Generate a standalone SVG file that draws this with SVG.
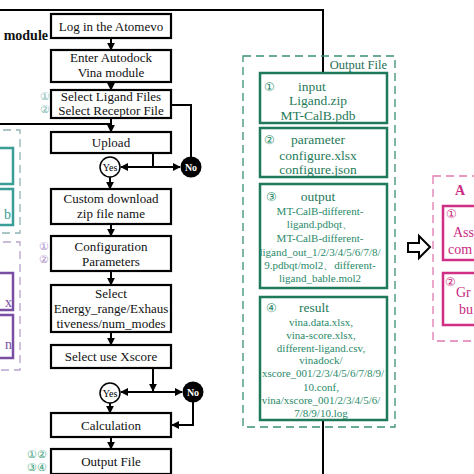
<svg xmlns="http://www.w3.org/2000/svg" width="474" height="474" viewBox="0 0 474 474">
<defs>
<marker id="ah" viewBox="0 0 10 10" refX="9" refY="5" markerWidth="4" markerHeight="4" orient="auto" markerUnits="strokeWidth"><path d="M0,0 L10,5 L0,10 Z" fill="#000"/></marker>
<style>
text{font-family:"Liberation Serif","Times New Roman",serif;}
.box{fill:#fff;stroke:#000;stroke-width:2.2;}
.t{font-size:13px;fill:#111;text-anchor:middle;}
.ln{fill:none;stroke:#000;stroke-width:2;}
.arr{fill:none;stroke:#000;stroke-width:2;marker-end:url(#ah);}
.yes{fill:#fff;stroke:#000;stroke-width:1.5;}
.no{fill:#000;}
.yt{font-size:10px;text-anchor:middle;fill:#000;}
.nt{font-size:10px;text-anchor:middle;fill:#fff;font-weight:bold;}
.gdash{fill:none;stroke:#3a9075;stroke-width:1.3;stroke-dasharray:8,5;}
.gbox{fill:#fff;stroke:#1f7a5a;stroke-width:2.5;}
.g1{font-size:13.5px;fill:#1f7a5a;text-anchor:middle;}
.g2{font-size:11px;fill:#2a8a6a;text-anchor:middle;}
.gn{font-size:12px;fill:#2a8a6a;}
.pdash{fill:none;stroke:#e07ab0;stroke-width:1.3;stroke-dasharray:8,5;}
.pbox{fill:#fff;stroke:#d12f86;stroke-width:2.5;}
.pt{font-size:14px;fill:#c92b80;}
.tdash{fill:none;stroke:#8fb3b3;stroke-width:1.3;stroke-dasharray:8,5;}
.tbox{fill:#fff;stroke:#3a9d96;stroke-width:2.5;}
.udash{fill:none;stroke:#b8a3cf;stroke-width:1.3;stroke-dasharray:8,5;}
.ubox{fill:#fff;stroke:#7a4fa3;stroke-width:2.5;}
.cn{font-size:10.5px;text-anchor:middle;}
</style>
</defs>
<rect width="474" height="474" fill="#fff"/>

<g id="connectors">
<polyline class="ln" points="0,10 323,10 323,73"/>
<line class="ln" x1="323" y1="420" x2="323" y2="474"/>
<line class="arr" x1="111" y1="38" x2="111" y2="50"/>
<line class="arr" x1="111" y1="82" x2="111" y2="90"/>
<polyline class="ln" points="0,124 111,124"/>
<line class="arr" x1="111" y1="118" x2="111" y2="132"/>
<polyline class="ln" points="171,105 191,105 191,157"/>
<line class="ln" x1="153" y1="153" x2="153" y2="167"/>
<line class="arr" x1="153" y1="167" x2="121" y2="167"/>
<line class="arr" x1="153" y1="167" x2="180" y2="167"/>
<line class="arr" x1="110" y1="177" x2="110" y2="189"/>
<line class="arr" x1="111" y1="224" x2="111" y2="236"/>
<line class="arr" x1="111" y1="271" x2="111" y2="285"/>
<line class="arr" x1="111" y1="332" x2="111" y2="345"/>
<line class="arr" x1="153" y1="368" x2="153" y2="391"/>
<line class="arr" x1="153" y1="392" x2="121" y2="392"/>
<line class="arr" x1="153" y1="392" x2="182" y2="392"/>
<polyline class="arr" points="193,402 193,425 172,425"/>
<line class="arr" x1="110" y1="403" x2="110" y2="413"/>
<line class="arr" x1="111" y1="437" x2="111" y2="449"/>
</g>

<g id="module-label"><text x="48" y="40" font-size="14" font-weight="bold" text-anchor="end" fill="#111">module</text></g>

<g id="login"><rect class="box" x="51" y="14" width="120" height="24"/><text class="t" x="111" y="30.5">Log in the Atomevo</text></g>
<g id="enter"><rect class="box" x="51" y="50" width="120" height="32"/><text class="t" x="111" y="62">Enter Autodock</text><text class="t" x="111" y="77">Vina module</text></g>
<g id="select-files"><rect class="box" x="51" y="90" width="120" height="28"/><text class="t" x="111" y="101">Select Ligand Files</text><text class="t" x="111" y="115">Select Receptor File</text>
<text class="cn" x="45" y="100" fill="#7ab8b4">①</text><text class="cn" x="45" y="113" fill="#7ab8b4">②</text></g>
<g id="upload"><rect class="box" x="51" y="132" width="120" height="21"/><text class="t" x="111" y="147">Upload</text></g>
<g id="yes1"><circle class="yes" cx="110" cy="167" r="10"/><text class="yt" x="110" y="170.5">Yes</text></g>
<g id="no1"><circle class="no" cx="191" cy="167" r="10.5"/><text class="nt" x="191" y="170.5">No</text></g>
<g id="custom"><rect class="box" x="51" y="189" width="120" height="35"/><text class="t" x="111" y="203">Custom download</text><text class="t" x="111" y="218">zip file name</text></g>
<g id="config"><rect class="box" x="51" y="236" width="120" height="35"/><text class="t" x="111" y="251">Configuration</text><text class="t" x="111" y="266">Parameters</text>
<text class="cn" x="44" y="250" fill="#a98cc8">①</text><text class="cn" x="44" y="263" fill="#a98cc8">②</text></g>
<g id="energy"><rect class="box" x="51" y="285" width="120" height="47"/><text class="t" x="111" y="298">Select</text><text class="t" x="111" y="313">Energy_range/Exhaus</text><text class="t" x="111" y="328">tiveness/num_modes</text></g>
<g id="xscore"><rect class="box" x="51" y="345" width="120" height="23"/><text class="t" x="111" y="361">Select use Xscore</text></g>
<g id="yes2"><circle class="yes" cx="110" cy="393" r="10"/><text class="yt" x="110" y="396.5">Yes</text></g>
<g id="no2"><circle class="no" cx="193" cy="392" r="10.5"/><text class="nt" x="193" y="395.5">No</text></g>
<g id="calc"><rect class="box" x="51" y="413" width="120" height="24"/><text class="t" x="111" y="430">Calculation</text></g>
<g id="output"><rect class="box" x="51" y="449" width="120" height="25"/><text class="t" x="111" y="466">Output File</text>
<g fill="#3aa07a"><text class="cn" x="32" y="458">①</text><text class="cn" x="42" y="458">②</text><text class="cn" x="32" y="471">③</text><text class="cn" x="42" y="471">④</text></g></g>

<g id="left-teal">
<rect class="tdash" x="-10" y="130" width="30" height="103"/>
<rect class="tbox" x="-10" y="148" width="23" height="36"/>
<rect class="tbox" x="-10" y="189" width="23" height="36"/>
<text x="11" y="219" font-size="14" text-anchor="end" fill="#3a9d96">b</text>
</g>
<g id="left-purple">
<rect class="udash" x="-10" y="242" width="30" height="128"/>
<rect class="ubox" x="-10" y="273" width="23" height="37"/>
<rect class="ubox" x="-10" y="315" width="23" height="43"/>
<text x="12" y="307" font-size="14" text-anchor="end" fill="#7a4fa3">x</text>
<text x="12" y="349" font-size="14" text-anchor="end" fill="#7a4fa3">n</text>
</g>

<g id="output-panel">
<rect class="gdash" x="243" y="56" width="152" height="371"/>
<text x="387" y="69" font-size="12.5" text-anchor="end" fill="#1f6e55">Output File</text>
<g id="input-box"><rect class="gbox" x="260" y="73" width="127" height="50"/>
<text class="gn" x="264" y="91">①</text>
<text class="g1" x="312" y="91">input</text><text class="g1" x="318" y="105">Ligand.zip</text><text class="g1" x="318" y="120">MT-CalB.pdb</text></g>
<g id="param-box"><rect class="gbox" x="260" y="128" width="127" height="49"/>
<text class="gn" x="264" y="144">②</text>
<text class="g1" x="318" y="144">parameter</text><text class="g1" x="318" y="160">configure.xlsx</text><text class="g1" x="318" y="174">configure.json</text></g>
<g id="output-box"><rect class="gbox" x="260" y="184" width="127" height="104"/>
<text class="gn" x="266" y="201">③</text>
<text class="g1" x="318" y="201">output</text>
<text class="g2" x="320" y="215">MT-CalB-different-</text>
<text class="g2" x="320" y="228">ligand.pdbqt、</text>
<text class="g2" x="320" y="242">MT-CalB-different-</text>
<text class="g2" x="320" y="256">ligand_out_1/2/3/4/5/6/7/8/</text>
<text class="g2" x="320" y="269">9.pdbqt/mol2、different-</text>
<text class="g2" x="320" y="282">ligand_bable.mol2</text></g>
<g id="result-box"><rect class="gbox" x="260" y="297" width="127" height="123"/>
<text class="gn" x="266" y="312">④</text>
<text class="g1" x="314" y="312">result</text>
<text class="g2" x="321" y="326">vina.data.xlsx,</text>
<text class="g2" x="321" y="339">vina-score.xlsx,</text>
<text class="g2" x="321" y="352">different-ligand.csv,</text>
<text class="g2" x="321" y="364">vinadock/</text>
<text class="g2" x="323" y="377">xscore_001/2/3/4/5/6/7/8/9/</text>
<text class="g2" x="321" y="391">10.conf,</text>
<text class="g2" x="321" y="404">vina/xscore_001/2/3/4/5/6/</text>
<text class="g2" x="321" y="417">7/8/9/10.log</text></g>
</g>

<g id="hollow-arrow"><polygon points="408,243 419,243 419,236 430,247 419,258 419,252 408,252" fill="#fff" stroke="#000" stroke-width="2" stroke-linejoin="miter"/></g>

<g id="pink-panel">
<rect class="pdash" x="433" y="176" width="60" height="165"/>
<text x="455" y="195" font-size="14" font-weight="bold" fill="#c92b80">A</text>
<g id="pink1"><rect class="pbox" x="443" y="206" width="50" height="54"/>
<text x="446" y="218" font-size="12" fill="#c92b80">①</text>
<text class="pt" x="453" y="237">Ass</text><text class="pt" x="448" y="254">com</text></g>
<g id="pink2"><rect class="pbox" x="443" y="273" width="50" height="52"/>
<text x="445" y="286" font-size="12" fill="#c92b80">②</text>
<text class="pt" x="456" y="297">Gr</text><text class="pt" x="459" y="314">bu</text></g>
</g>
</svg>
